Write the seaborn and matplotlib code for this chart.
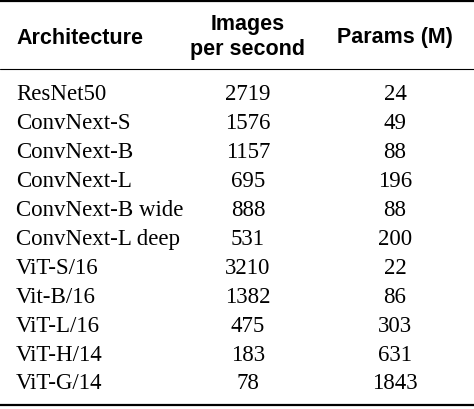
import matplotlib
matplotlib.use("Agg")
import matplotlib.pyplot as plt
import seaborn as sns

# table data
architectures = ["ResNet50", "ConvNext-S", "ConvNext-B", "ConvNext-L", "ConvNext-B wide",
                 "ConvNext-L deep", "ViT-S/16", "Vit-B/16", "ViT-L/16", "ViT-H/14", "ViT-G/14"]
images_per_sec = [2719, 1576, 1157, 695, 888, 531, 3210, 1382, 475, 183, 78]
params_m = [24, 49, 88, 196, 88, 200, 22, 86, 303, 631, 1843]
headers = ["Architecture", "Images\nper second", "Params (M)"]

sns.set_style("white")
W, H = 474, 410
fig = plt.figure(figsize=(W / 100, H / 100), dpi=100)
ax = fig.add_axes([0, 0, 1, 1])
ax.set_xlim(0, W)
ax.set_ylim(H, 0)
ax.axis("off")

head_font = dict(family="Liberation Sans", weight="bold", fontsize=15.5, color="black")
body_font = dict(family="Liberation Serif", fontsize=16.5, color="black")

# rules
ax.plot([0, W], [2, 2], color="black", lw=1.6)
ax.plot([0, W], [70, 70], color="black", lw=0.8)
ax.plot([0, W], [406, 406], color="black", lw=1.6)

# header
ax.text(16, 38, headers[0], ha="left", va="center", **head_font)
ax.text(248, 37, headers[1], ha="center", va="center", linespacing=1.25, **head_font)
ax.text(395, 38, headers[2], ha="center", va="center", **head_font)

# body rows
y0, dy = 95, 28.9
for i, (a, im, p) in enumerate(zip(architectures, images_per_sec, params_m)):
    y = y0 + i * dy
    ax.text(16, y, a, ha="left", va="center", **body_font)
    ax.text(248, y, str(im), ha="center", va="center", **body_font)
    ax.text(395, y, str(p), ha="center", va="center", **body_font)

fig.savefig("out.png", dpi=100)
